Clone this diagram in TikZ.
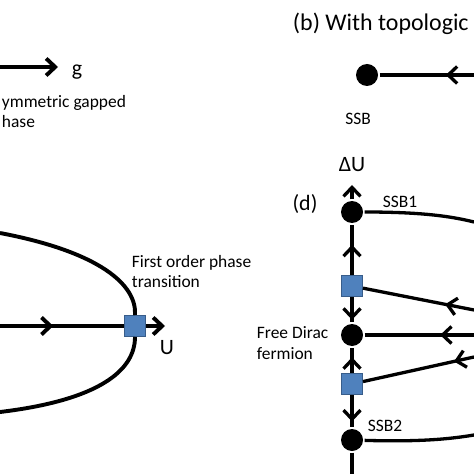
\documentclass[tikz,border=0pt]{standalone}
\usepackage{fontspec}
\setmainfont{Carlito}
\usetikzlibrary{arrows.meta,decorations.markings}
\definecolor{sqfill}{RGB}{79,129,189}
\definecolor{sqdraw}{RGB}{56,93,138}
\tikzset{
  chev/.tip={Straight Barb[length=9bp,width=17bp]},
  mydot/.style={circle,fill=black,inner sep=0pt,minimum size=22bp},
  mysq/.style={rectangle,fill=sqfill,draw=sqdraw,line width=1bp,
    inner sep=0pt,minimum size=21bp},
  lbl/.style={inner sep=0pt,font=\fontsize{17.5}{20.5}\selectfont,align=left},
  big/.style={inner sep=0pt,font=\fontsize{22}{26}\selectfont},
  fwd/.style={postaction={decorate},
    decoration={markings,mark=at position #1 with {\arrow{chev}}}},
  bwd/.style={postaction={decorate},
    decoration={markings,mark=at position #1 with {\arrowreversed{chev}}}}
}
\begin{document}
\begin{tikzpicture}[x=1bp,y=-1bp,line width=3.9bp]
\useasboundingbox (0,0) rectangle (474,474);

% top left
\coordinate (gl) at (0,67);
\coordinate (gr) at (58,67);
\node[big] (g) at (77,72) {g};
\draw[-chev] (gl) -- (gr);
\node[lbl,anchor=north west] (sym) at (0,93) {ymmetric gapped\\hase};

% (b)
\node[inner sep=0pt,anchor=west,font=\fontsize{24}{28}\selectfont] (titb)
  at (291,24) {(b) With topologic};
\node[mydot] (ssb) at (367,75) {};
\coordinate (bR) at (474,75);
\draw[line width=3.3bp,bwd=0.7] (ssb) -- (bR);
\node[lbl] (ssbl) at (358,119) {SSB};

% left flow
\node[mysq] (fo) at (135,326) {};
\coordinate (uL) at (0,326);
\coordinate (uR) at (165,326);
\coordinate (cTop) at (0,233);
\coordinate (cBot) at (0,412);
\draw[fwd=0.43] (uL) -- (fo);
\draw[-chev] (fo) -- (uR);
\draw (cTop) .. controls (100,252) and (137,285) .. (fo.north);
\draw (fo.south) .. controls (135,370) and (100,400) .. (cBot);
\node[big] (ul) at (167,348) {U};
\node[lbl,anchor=north west] (fol) at (130,253) {First order phase\\transition};

% (d)
\begin{scope}[line width=3.3bp]
\node[mydot] (ssb1) at (352,212) {};
\node[mysq] (sq1) at (352,286) {};
\node[mydot] (dirac) at (352,335) {};
\node[mysq] (sq2) at (352,384) {};
\node[mydot] (ssb2) at (352,440) {};
\coordinate (dtop) at (352,185);
\coordinate (dbot) at (352,474);
\coordinate (r1) at (474,222);
\coordinate (r2) at (474,310);
\coordinate (r3) at (474,335);
\coordinate (r4) at (474,357);
\coordinate (r5) at (474,435);

\draw[-chev] (ssb1) -- (dtop);
\draw[fwd=0.6] (sq1) -- (ssb1);
\draw[fwd=0.9] (sq1) -- (dirac);
\draw[fwd=0.62] (sq2) -- (dirac);
\draw[fwd=0.82] (sq2) -- (ssb2);
\draw (ssb2) -- (dbot);

\draw (ssb1) .. controls (420,212) and (450,216) .. (r1);
\draw[bwd=0.74] (sq1) -- (r2);
\draw[bwd=0.69] (dirac) -- (r3);
\draw[bwd=0.82] (sq2) -- (r4);
\draw (ssb2) .. controls (420,442) and (450,439) .. (r5);
\end{scope}

\node[big] (du) at (352,165) {ΔU};
\node[big] (dl) at (305,204) {(d)};
\node[lbl] (ssb1l) at (400,202) {SSB1};
\node[lbl] (ssb2l) at (385,426) {SSB2};
\node[lbl,anchor=north west] (fdl) at (255,325) {Free Dirac\\fermion};
\end{tikzpicture}
\end{document}
